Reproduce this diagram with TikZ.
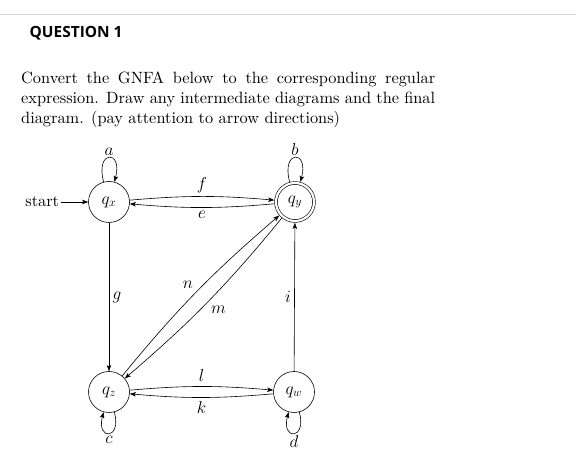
\documentclass[tikz,border=0pt]{standalone}
\usepackage{fontspec}
\setmainfont{lmroman10-regular}[Extension=.otf]
\newfontfamily\titlefont{Open Sans}
\usetikzlibrary{arrows.meta}
\begin{document}
\begin{tikzpicture}[x=1bp,y=1bp,
  >={Stealth[length=6bp,width=4.4bp,inset=1.2bp]},
  every node/.style={font=\fontsize{16.4}{20}\selectfont},
  st/.style={circle,draw,line width=0.6bp,minimum size=41bp,inner sep=0pt},
  acc/.style={circle,draw,line width=0.6bp,minimum size=38bp,inner sep=0pt,double,double distance=2.2bp,outer sep=1.8bp},
  tr/.style={->,line width=0.6bp},
  lp/.style={->,line width=0.6bp,looseness=8,min distance=5mm}]
\useasboundingbox (0,0) rectangle (576,461);
\fill[white] (0,0) rectangle (576,461);
\draw[black!18,line width=1bp] (0,446.7) -- (576,446.7);
\node[anchor=base west,inner sep=0pt,font=\titlefont\bfseries\fontsize{15.5}{18}\selectfont] (title) at (29.5,423.7) {QUESTION 1};
\node[anchor=north west,inner sep=0pt,text width=414bp,align=justify] (para) at (21,389.4)
  {Convert the GNFA below to the corresponding regular\linebreak expression. Draw any intermediate diagrams and the final\linebreak diagram. (pay attention to arrow directions)};
% states
\node[st] (qx) at (109,259) {$q_x$};
\node[acc] (qy) at (295,259) {$q_y$};
\node[st] (qz) at (109,69) {$q_z$};
\node[st] (qw) at (294,69) {$q_w$};
\node[anchor=east,inner sep=1.5bp] (start) at (60.8,259) {start};
\draw[tr] (start) -- (qx);
% transitions
\draw[tr] (qx) to[bend left=5] node[above] {$f$} (qy);
\draw[tr] (qy) to[bend left=5] node[below] {$e$} (qx);
\draw[tr] (qz) to[bend left=5] node[above,inner sep=4.5bp] {$l$} (qw);
\draw[tr] (qw) to[bend left=5] node[below,inner sep=4bp] {$k$} (qz);
\draw[tr] (qz) to[bend left=5] node[above left] {$n$} (qy);
\draw[tr] (qy) to[bend left=5] node[below right] {$m$} (qz);
\draw[tr] (qx) -- node[right] {$g$} (qz);
\draw[tr] (qw) -- node[left] {$i$} (qy);
% loops
\draw[lp] (qx) to[out=105,in=75] node[above,inner sep=2bp] {$a$} (qx);
\draw[lp] (qy) to[out=105,in=75] node[above,inner sep=2bp] {$b$} (qy);
\draw[lp,looseness=7] (qz) to[out=285,in=255] node[below,inner sep=2bp] {$c$} (qz);
\draw[lp,looseness=7] (qw) to[out=285,in=255] node[below,inner sep=2bp] {$d$} (qw);
\end{tikzpicture}
\end{document}
